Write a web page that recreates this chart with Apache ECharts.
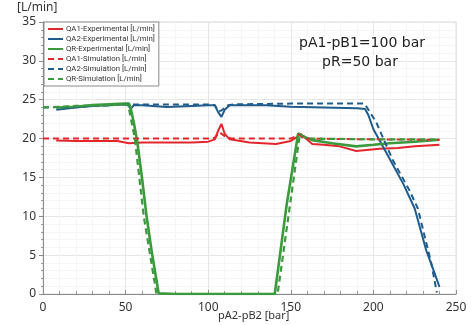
<!DOCTYPE html>
<html><head><meta charset="utf-8">
<script src="https://cdn.jsdelivr.net/npm/echarts@6/dist/echarts.min.js"></script>
<style>html,body{margin:0;padding:0;background:#fff}#c{width:474px;height:325px}</style>
</head><body><div id="c"></div>
<script>
// ---- data ----
const xTicks = [0, 50, 100, 150, 200, 250];
const yTicks = [0, 5, 10, 15, 20, 25, 30, 35];

const qa1ExpX = [8, 20, 30, 45, 52, 60, 70, 80, 90, 100, 104, 106, 108, 110, 113, 125, 141, 150, 153, 156, 163, 170, 179.5, 189.6, 203.7, 215, 225, 240];
const qa1ExpY = [19.75, 19.7, 19.7, 19.7, 19.4, 19.5, 19.5, 19.5, 19.5, 19.6, 19.9, 21.0, 21.9, 20.6, 19.9, 19.5, 19.3, 19.7, 20.1, 20.6, 19.3, 19.2, 19.0, 18.4, 18.7, 18.8, 19.0, 19.2];

const qa2ExpX = [8, 20, 30, 40, 50, 52, 53, 55, 60, 75, 90, 100, 104, 106, 108, 110, 113, 120, 135, 150, 170, 190, 195, 197, 200, 208, 218, 225, 232, 236, 240];
const qa2ExpY = [23.7, 24.0, 24.2, 24.3, 24.4, 24.2, 23.8, 24.3, 24.3, 24.05, 24.2, 24.3, 24.3, 23.4, 22.8, 23.7, 24.3, 24.3, 24.3, 24.1, 24.0, 23.9, 23.8, 23.0, 21.2, 18.1, 14.2, 11.0, 5.6, 3.3, 0.9];

const qrExpX = [8, 20, 30, 40, 50, 52, 53, 55, 57, 60, 62.7, 66, 70, 80, 100, 120, 140.3, 147.5, 154.5, 156, 163, 175, 189.6, 200, 210, 225, 240];
const qrExpY = [24.0, 24.1, 24.3, 24.4, 24.5, 24.5, 24.0, 22.0, 19.7, 14.8, 10.0, 5.2, 0.1, 0, 0, 0, 0, 11.5, 20.7, 20.4, 19.8, 19.4, 19.0, 19.2, 19.4, 19.6, 19.85];

const qa1SimX = [0, 50, 100, 104, 107, 110, 114, 150, 153, 155, 158, 200, 240];
const qa1SimY = [20.0, 20.0, 20.0, 20.1, 20.8, 20.3, 20.0, 20.0, 20.3, 20.5, 20.0, 19.9, 19.85];

const qa2SimX = [0, 20, 40, 50, 55, 100, 104, 106, 108, 112, 116, 150, 194.7, 201.7, 211.8, 221.9, 226.9, 235, 238.4];
const qa2SimY = [24.0, 24.1, 24.3, 24.4, 24.4, 24.4, 24.3, 23.5, 23.6, 24.3, 24.4, 24.5, 24.5, 22.1, 17.2, 13.3, 11.0, 4.0, 0.2];

const qrSimX = [0, 20, 40, 50, 51.6, 55.6, 61, 68.7, 80, 120, 142, 155.5, 160, 200, 240];
const qrSimY = [24.0, 24.2, 24.3, 24.4, 24.3, 20.0, 10.0, 0, 0, 0, 0, 20.6, 20.0, 19.9, 19.9];

const names = ['QA1-Experimental [L/min]', 'QA2-Experimental [L/min]', 'QR-Experimental [L/min]',
               'QA1-Simulation [L/min]', 'QA2-Simulation [L/min]', 'QR-Simulation [L/min]'];

const RED = '#e3262b', BLUE = '#1f5c8c', GREEN = '#3a9a3c';
const zip = (xs, ys) => xs.map((x, i) => [x, ys[i]]);

function line(name, xs, ys, color, dashed, width) {
  return {
    name, type: 'line', data: zip(xs, ys), symbol: 'none', showSymbol: false, smooth: false,
    lineStyle: { color, width, type: dashed ? [6, 4] : 'solid' },
    itemStyle: { color }, z: dashed ? 3 : 2
  };
}

const FONT = 'Noto Sans';
const chart = echarts.init(document.getElementById('c'), null, { renderer: 'canvas' });
chart.setOption({
  animation: false,
  textStyle: { fontFamily: FONT },
  grid: { left: 43, right: 18, top: 22, bottom: 31, show: true, borderColor: '#dcdcdc', borderWidth: 1 },
  xAxis: {
    type: 'value', min: xTicks[0], max: xTicks[xTicks.length - 1], interval: 50,
    axisLine: { show: true, lineStyle: { color: '#8a8a8a' } },
    axisTick: { show: true, inside: true, length: 4, lineStyle: { color: '#8a8a8a' } },
    minorTick: { show: true, splitNumber: 5, length: 3, lineStyle: { color: '#9a9a9a' } },
    splitLine: { show: true, lineStyle: { color: '#e6e6e6' } },
    minorSplitLine: { show: true, lineStyle: { color: '#f5f5f5' } },
    axisLabel: { color: '#333', fontSize: 12, margin: 8, fontFamily: FONT }
  },
  yAxis: {
    type: 'value', min: yTicks[0], max: yTicks[yTicks.length - 1], interval: 5,
    axisLine: { show: true, lineStyle: { color: '#8a8a8a' } },
    axisTick: { show: true, length: 4, lineStyle: { color: '#8a8a8a' } },
    minorTick: { show: true, splitNumber: 5, length: 2, lineStyle: { color: '#9a9a9a' } },
    splitLine: { show: true, lineStyle: { color: '#e6e6e6' } },
    minorSplitLine: { show: true, lineStyle: { color: '#f5f5f5' } },
    axisLabel: { color: '#333', fontSize: 12, margin: 7, fontFamily: FONT }
  },
  legend: {
    orient: 'vertical', left: 44, top: 22,
    data: names,
    itemWidth: 15, itemHeight: 10, itemGap: 2,
    padding: [3, 4, 3, 3],
    itemStyle: { opacity: 0 },
    backgroundColor: '#fff', borderColor: '#8a8a8a', borderWidth: 1, borderRadius: 0,
    textStyle: { fontSize: 7.8, color: '#333', fontFamily: 'Roboto', padding: [0, 0, 0, -2] }
  },
  graphic: [
    { type: 'text', left: 17, top: 2, style: { text: '[L/min]', fontSize: 12, fill: '#333', fontFamily: FONT } },
    { type: 'text', left: 218, top: 310, style: { text: 'pA2-pB2 [bar]', fontSize: 11, fill: '#333', fontFamily: FONT } },
    { type: 'text', x: 362, y: 36, z: 100, style: { text: 'pA1-pB1=100 bar', fontSize: 14, fill: '#222', textAlign: 'center', fontFamily: 'DejaVu Sans', backgroundColor: '#fff' } },
    { type: 'text', x: 360, y: 55, z: 100, style: { text: 'pR=50 bar', fontSize: 14, fill: '#222', textAlign: 'center', fontFamily: 'DejaVu Sans', backgroundColor: '#fff' } }
  ],
  series: [
    line(names[0], qa1ExpX, qa1ExpY, RED, false, 2),
    line(names[1], qa2ExpX, qa2ExpY, BLUE, false, 2),
    line(names[2], qrExpX, qrExpY, GREEN, false, 2.6),
    line(names[3], qa1SimX, qa1SimY, RED, true, 2),
    line(names[4], qa2SimX, qa2SimY, BLUE, true, 2),
    line(names[5], qrSimX, qrSimY, GREEN, true, 2.2)
  ]
});
</script>
</body></html>
